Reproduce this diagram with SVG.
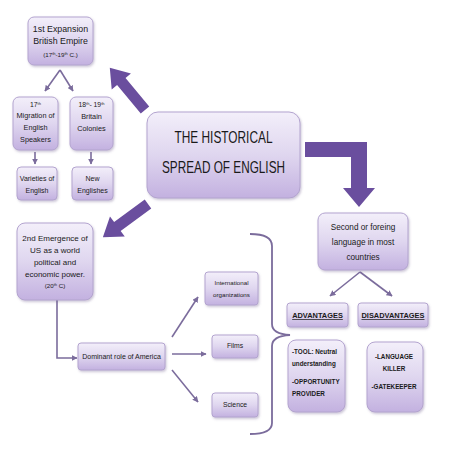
<svg xmlns="http://www.w3.org/2000/svg" width="453" height="453" viewBox="0 0 453 453">
<defs>
<linearGradient id="g" x1="0" y1="0" x2="0" y2="1">
<stop offset="0" stop-color="#f3effa"/>
<stop offset="0.5" stop-color="#dfd6ef"/>
<stop offset="1" stop-color="#c3b1e0"/>
</linearGradient>
<filter id="sh" x="-10%" y="-10%" width="125%" height="130%">
<feDropShadow dx="1" dy="1.5" stdDeviation="1.2" flood-color="#6a5a8a" flood-opacity="0.35"/>
</filter>
<marker id="ah" viewBox="0 0 10 10" refX="9" refY="5" markerWidth="6" markerHeight="6" markerUnits="userSpaceOnUse" orient="auto">
<path d="M0,0 L10,5 L0,10 Z" fill="#7b6c9c"/>
</marker>
<style>
.box{fill:url(#g);stroke:#b3a4cf;stroke-width:1;filter:url(#sh)}
.t{font-family:"Liberation Sans",Arial,sans-serif;fill:#1a1a1a;text-anchor:middle}
.s{text-anchor:start}
.b{font-weight:bold}
.ln{fill:none;stroke:#7b6c9c;stroke-width:1.6;marker-end:url(#ah)}
.big{fill:#6a4e9e}
</style>
</defs>
<rect width="453" height="453" fill="#ffffff"/>

<g id="connectors">
<path class="ln" d="M60,70 L45,91"/>
<path class="ln" d="M60,70 L73,91"/>
<path class="ln" d="M35,152 L35,164"/>
<path class="ln" d="M91,152 L91,164"/>
<path class="ln" d="M57,300 L57,358 L77,358"/>
<path class="ln" d="M172,337 L198,297"/>
<path class="ln" d="M172,354 L206,354"/>
<path class="ln" d="M172,370 L198,402"/>
<path class="ln" d="M360,272 L330,296"/>
<path class="ln" d="M360,272 L392,296"/>
<path d="M250,234 Q272,234 272,246 L272,324 Q272,334 290,335 Q272,336 272,346 L272,423 Q272,434 250,434" fill="none" stroke="#7b6c9c" stroke-width="1.8"/>
<polygon class="big" transform="translate(145,110) rotate(230.2)" points="0,-5.5 37,-5.5 37,-12.5 55,0 37,12.5 37,5.5 0,5.5"/>
<polygon class="big" transform="translate(148,204) rotate(143.7)" points="0,-5.5 38,-5.5 38,-12.5 56,0 38,12.5 38,5.5 0,5.5"/>
<polygon class="big" points="305,142 367,142 367,188 375,188 359,207 343,188 351,188 351,157 305,157"/>
</g>

<g id="n-expansion">
<rect class="box" x="28" y="17" width="65" height="48" rx="6"/>
<text class="t" x="60.5" y="32" font-size="8.8">1st Expansion</text>
<text class="t" x="60.5" y="44" font-size="8.8">British Empire</text>
<text class="t" x="60.5" y="57" font-size="6.2">(17<tspan font-size="4" dy="-2.5">th</tspan><tspan dy="2.5">-19</tspan><tspan font-size="4" dy="-2.5">th</tspan><tspan dy="2.5"> C.)</tspan></text>
</g>

<g id="n-migration">
<rect class="box" x="13" y="97" width="45" height="53" rx="6"/>
<text class="t" x="35.5" y="107" font-size="6.8">17<tspan font-size="4" dy="-2.5">th</tspan></text>
<text class="t" x="35.5" y="118" font-size="7.3">Migration of</text>
<text class="t" x="35.5" y="130" font-size="7.3">English</text>
<text class="t" x="35.5" y="142" font-size="7.3">Speakers</text>
</g>

<g id="n-colonies">
<rect class="box" x="70" y="97" width="43" height="53" rx="6"/>
<text class="t" x="91.5" y="107" font-size="6.8">18<tspan font-size="4" dy="-2.5">th</tspan><tspan dy="2.5">- 19</tspan><tspan font-size="4" dy="-2.5">th</tspan></text>
<text class="t" x="91.5" y="119" font-size="7.3">Britain</text>
<text class="t" x="91.5" y="131" font-size="7.3">Colonies</text>
</g>

<g id="n-varieties">
<rect class="box" x="17" y="167" width="40" height="33" rx="4"/>
<text class="t" x="37" y="181" font-size="7">Varieties of</text>
<text class="t" x="37" y="193" font-size="7">English</text>
</g>

<g id="n-newenglishes">
<rect class="box" x="72" y="167" width="41" height="33" rx="4"/>
<text class="t" x="92.5" y="181" font-size="7">New</text>
<text class="t" x="92.5" y="193" font-size="7">Englishes</text>
</g>

<g id="n-central">
<rect class="box" x="147" y="112" width="153" height="86" rx="11"/>
<text class="t" x="223.5" y="143" font-size="17" textLength="98" lengthAdjust="spacingAndGlyphs">THE HISTORICAL</text>
<text class="t" x="223.5" y="173" font-size="17" textLength="123" lengthAdjust="spacingAndGlyphs">SPREAD OF ENGLISH</text>
</g>

<g id="n-second">
<rect class="box" x="318" y="213" width="90" height="57" rx="7"/>
<text class="t" x="363" y="230" font-size="8.2">Second or foreing</text>
<text class="t" x="363" y="245" font-size="8.2">language in most</text>
<text class="t" x="363" y="260" font-size="8.2">countries</text>
</g>

<g id="n-advantages">
<rect class="box" x="287" y="303" width="61" height="24" rx="3"/>
<text class="t b" x="317.5" y="318" font-size="7.4" text-decoration="underline">ADVANTAGES</text>
</g>

<g id="n-disadvantages">
<rect class="box" x="358" y="303" width="70" height="24" rx="3"/>
<text class="t b" x="393" y="318" font-size="7.4" text-decoration="underline">DISADVANTAGES</text>
</g>

<g id="n-adv-list">
<rect class="box" x="288" y="340" width="57" height="72" rx="8"/>
<text class="t s b" x="292" y="354" font-size="6.3">-TOOL: Neutral</text>
<text class="t s b" x="292" y="366" font-size="6.3">understanding</text>
<text class="t s b" x="292" y="384" font-size="6.3">-OPPORTUNITY</text>
<text class="t s b" x="292" y="396" font-size="6.3">PROVIDER</text>
</g>

<g id="n-disadv-list">
<rect class="box" x="367" y="342" width="56" height="70" rx="8"/>
<text class="t b" x="394" y="359" font-size="6.3">-LANGUAGE</text>
<text class="t b" x="394" y="371" font-size="6.3">KILLER</text>
<text class="t b" x="394" y="389" font-size="6.3">-GATEKEEPER</text>
</g>

<g id="n-emergence">
<rect class="box" x="17" y="223" width="76" height="77" rx="8"/>
<text class="t" x="55" y="241" font-size="8">2nd Emergence of</text>
<text class="t" x="55" y="253" font-size="8">US as a world</text>
<text class="t" x="55" y="265" font-size="8">political and</text>
<text class="t" x="55" y="277" font-size="8">economic power.</text>
<text class="t" x="55" y="288" font-size="6.2">(20<tspan font-size="4" dy="-2.5">th</tspan><tspan dy="2.5"> C)</tspan></text>
</g>

<g id="n-dominant">
<rect class="box" x="78" y="343" width="87" height="27" rx="3"/>
<text class="t" x="121.5" y="359" font-size="7">Dominant role of America</text>
</g>

<g id="n-intl">
<rect class="box" x="205" y="272" width="53" height="33" rx="3"/>
<text class="t" x="231.5" y="285" font-size="6.2">International</text>
<text class="t" x="231.5" y="297" font-size="6.2">organizations</text>
</g>

<g id="n-films">
<rect class="box" x="212" y="335" width="46" height="23" rx="3"/>
<text class="t" x="235" y="348" font-size="6.8">Films</text>
</g>

<g id="n-science">
<rect class="box" x="212" y="393" width="46" height="24" rx="3"/>
<text class="t" x="235" y="407" font-size="6.8">Science</text>
</g>
</svg>
